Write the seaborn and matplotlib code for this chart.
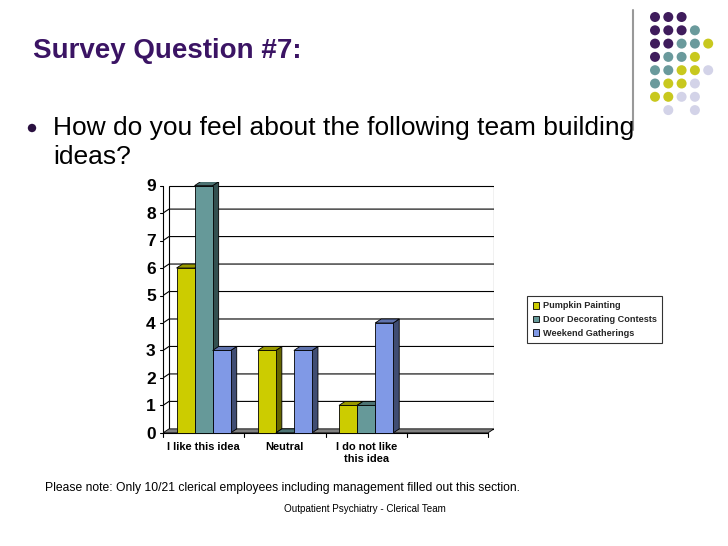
import numpy as np
import pandas as pd
import seaborn as sns
import matplotlib.pyplot as plt
from matplotlib.patches import Polygon, Rectangle, Ellipse

# survey answers (counts of employees)
categories = ["I like this idea", "Neutral", "I do not like\nthis idea", ""]
answered = ["I like this idea", "Neutral", "I do not like\nthis idea"]
ideas = ["Pumpkin Painting", "Door Decorating Contests", "Weekend Gatherings"]
pumpkin = [6, 3, 1]
door = [9, 0, 1]
weekend = [3, 3, 4]

front_cols = ["#CCCC00", "#669999", "#8099E6"]
side_cols = ["#666600", "#335050", "#404D73"]
top_cols = ["#999900", "#4D7373", "#6073AD"]

rows = []
for name, vals in zip(ideas, [pumpkin, door, weekend]):
    for cat, v in zip(answered, vals):
        rows.append({"answer": cat, "idea": name, "count": v})
df = pd.DataFrame(rows)

sns.set_theme(style="white")
plt.rcParams['font.family'] = ['Liberation Sans', 'DejaVu Sans']

W, H = 728, 546
fig = plt.figure(figsize=(W / 100, H / 100), dpi=100)

def fx(px):
    return px / W

def fy(py):
    return 1 - py / H

def dot(cx, cy, r, col):
    fig.add_artist(Ellipse((fx(cx), fy(cy)), 2 * r / W, 2 * r / H,
                           transform=fig.transFigure, facecolor=col, edgecolor="none"))

# plot area in pixels
px_left, px_right = 163, 494
px_bottom, px_top = 437, 181.5
ax = fig.add_axes([fx(px_left), fy(px_bottom), (px_right - px_left) / W, (px_bottom - px_top) / H])

unit_x = 81.25   # px per category
unit_y = 27.5    # px per count
ddx = 6 / unit_x
ddy = 4 / unit_y

sns.barplot(data=df, x="answer", y="count", hue="idea", order=categories,
            hue_order=ideas, palette=front_cols, width=0.667, saturation=1,
            edgecolor="black", linewidth=0.6, ax=ax)

ax.set_xlim(-0.5, 3.5 + ddx)
ax.set_ylim(-0.15, 9 + 0.15)
for s in ax.spines.values():
    s.set_visible(False)
ax.set_xticks([])
ax.set_yticks([])
ax.set_xlabel("")
ax.set_ylabel("")
handles, labels = ax.get_legend_handles_labels()
if ax.get_legend() is not None:
    ax.get_legend().remove()

x0, x1 = -0.5, 3.5
# back wall + gridlines
ax.add_patch(Rectangle((x0 + ddx, ddy), x1 - x0, 9 - ddy, facecolor="white",
                       edgecolor="black", linewidth=0.8, zorder=1))
for v in range(1, 9):
    ax.plot([x0, x0 + ddx, x1 + ddx], [v, v + ddy, v + ddy], color="black", lw=0.8, zorder=2)
# floor
ax.add_patch(Polygon([(x0, 0), (x1, 0), (x1 + ddx, ddy), (x0 + ddx, ddy)], closed=True,
                     facecolor="#808080", edgecolor="black", linewidth=0.6, zorder=3))
# front axis
ax.plot([x0, x0], [0, 9], color="black", lw=0.8, zorder=4, clip_on=False)
ax.plot([x0, x1], [0, 0], color="black", lw=0.8, zorder=4, clip_on=False)
for v in range(0, 10):
    ax.plot([x0 - 0.04, x0], [v, v], color="black", lw=0.8, clip_on=False)
    ax.text(x0 - 0.09, v - 0.05, str(v), ha="right", va="center", fontsize=12.5,
            fontweight="bold", color="black")
for b in np.arange(-0.5, 3.6, 1.0):
    ax.plot([b, b], [0, -0.15], color="black", lw=0.8, clip_on=False)
for i, c in enumerate(categories):
    ax.text(i, -0.33, c, ha="center", va="top", fontsize=7.9, fontweight="bold",
            color="black", linespacing=1.25)

# 3-D faces for bars
bars = [p for cont in ax.containers for p in cont]
color_of = {}
for ci, cont in enumerate(ax.containers):
    for p in cont:
        color_of[id(p)] = ci
bars.sort(key=lambda p: p.get_x())
for i, p in enumerate(bars):
    ci = color_of[id(p)]
    x, w, h = p.get_x(), p.get_width(), p.get_height()
    if np.isnan(h):
        continue
    z = 10 + 3 * i
    p.set_zorder(z + 2)
    ax.add_patch(Polygon([(x + w, 0), (x + w, h), (x + w + ddx, h + ddy), (x + w + ddx, ddy)],
                         closed=True, facecolor=side_cols[ci], edgecolor="black", lw=0.6, zorder=z + 1))
    ax.add_patch(Polygon([(x, h), (x + w, h), (x + w + ddx, h + ddy), (x + ddx, h + ddy)],
                         closed=True, facecolor=top_cols[ci], edgecolor="black", lw=0.6, zorder=z + 1))

# legend
leg = fig.legend(handles, labels, loc="upper left", bbox_to_anchor=(fx(527), fy(296)),
                 frameon=True, fancybox=False, edgecolor="black",
                 handlelength=0.7, handleheight=0.7, handletextpad=0.4,
                 borderpad=0.6, labelspacing=0.5, borderaxespad=0,
                 prop={"weight": "bold", "size": 6.6})
leg.get_frame().set_linewidth(0.8)

# slide texts
purple = "#3B1464"
fig.text(fx(33), fy(58), "Survey Question #7:", fontsize=20, fontweight="bold",
         color=purple, va="baseline")
dot(32, 128, 4.2, "#2A1040")
fig.text(fx(53), fy(135), "How do you feel about the following team building",
         fontsize=19, color="black", va="baseline")
fig.text(fx(53), fy(164), "ideas?", fontsize=19, color="black", va="baseline")
fig.text(fx(45), fy(491), "Please note: Only 10/21 clerical employees including management filled out this section.",
         fontsize=8.75, color="black", va="baseline")
fig.text(fx(365), fy(512), "Outpatient Psychiatry - Clerical Team", fontsize=7.1,
         color="black", va="baseline", ha="center")

# decorative dots and line in the corner
fig.add_artist(plt.Line2D([fx(633), fx(633)], [fy(10), fy(130)], color="#999999", lw=1.5))
dp, dt, dy_, dl = "#3F1C5C", "#6A9A9C", "#C8C81E", "#D3D3E8"
dot_grid = [
    [dp, dp, dp, None, None],
    [dp, dp, dp, dt, None],
    [dp, dp, dt, dt, dy_],
    [dp, dt, dt, dy_, None],
    [dt, dt, dy_, dy_, dl],
    [dt, dy_, dy_, dl, None],
    [dy_, dy_, dl, dl, None],
    [None, dl, None, dl, None],
]
for r, row in enumerate(dot_grid):
    for c, col in enumerate(row):
        if col is None:
            continue
        dot(655 + 13.3 * c, 17 + 13.3 * r, 5, col)

fig.savefig("out.png", dpi=100)
